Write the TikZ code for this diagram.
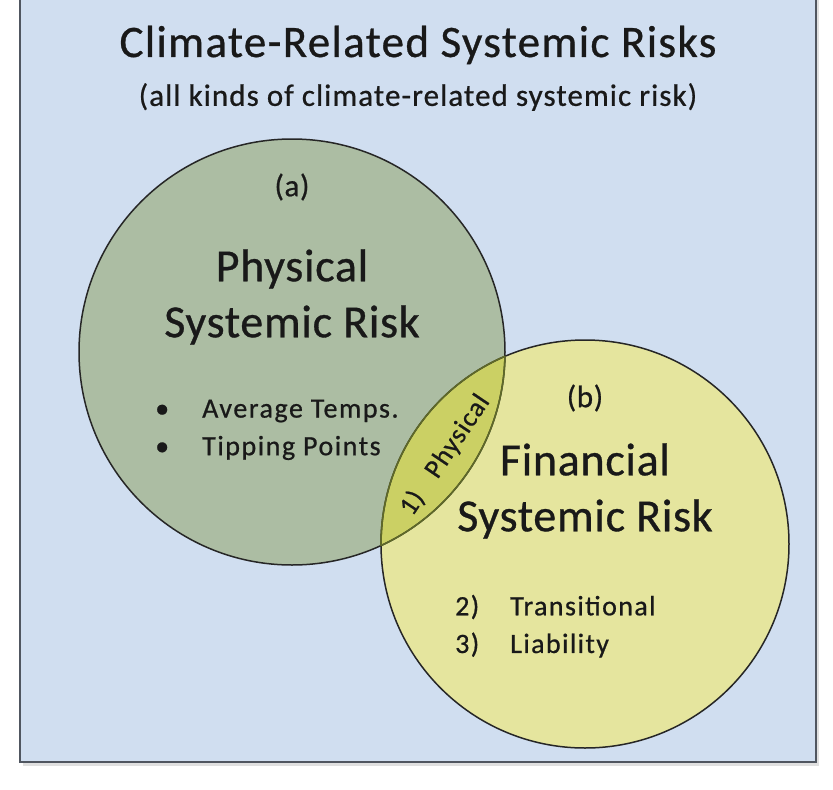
\documentclass[tikz,border=0pt]{standalone}
\usepackage{fontspec}
\setmainfont{Carlito}
\definecolor{boxblue}{RGB}{208,222,240}
\definecolor{boxline}{RGB}{80,86,96}
\definecolor{physgreen}{RGB}{172,189,163}
\definecolor{finyellow}{RGB}{229,229,158}
\definecolor{lensyellow}{RGB}{203,208,100}
\definecolor{lensline}{RGB}{95,105,40}
\tikzset{
  fsize/.style 2 args={font=\fontsize{#1}{#1}\selectfont\addfontfeature{LetterSpace=#2,FakeBold=0.7}},
  label/.style={inner sep=0pt, text=black!90},
}
\begin{document}
\begin{tikzpicture}[x=1pt,y=-1pt]
\useasboundingbox (0,0) rectangle (833,790);
% Rahmen
\fill[black!12] (23,-5) rectangle (819,766);
\draw[fill=boxblue, draw=boxline, line width=2pt] (20,-5) rectangle (816,762);
% Kreise
\fill[finyellow] (585,544) circle (204);
\fill[physgreen] (292,352) circle (213);
\begin{scope}
\clip (292,352) circle (213);
\fill[lensyellow] (585,544) circle (204);
\end{scope}
\draw[line width=1.5pt, black!85] (292,352) circle (213);
\draw[line width=1.5pt, black!85] (585,544) circle (204);
\begin{scope}
\clip (292,352) circle (213);
\draw[line width=1.6pt, lensline] (585,544) circle (204);
\end{scope}
\begin{scope}
\clip (585,544) circle (204);
\draw[line width=1.6pt, lensline] (292,352) circle (213);
\end{scope}
% Beschriftungen
\node[label, fsize={45}{3}] (title) at (418,45) {Climate-Related Systemic Risks};
\node[label, fsize={31}{3.5}] (subtitle) at (418,97) {(all kinds of climate-related systemic risk)};
\node[label, fsize={31}{2}] (a) at (292,187) {(a)};
\node[label, fsize={46}{1.5}, align=center] (phys) at (292,297) {Physical\\[10pt]Systemic Risk};
\node[label, fsize={28}{5.5}, anchor=west] (temps) at (155,411) {\makebox[47pt][l]{\textbullet}Average Temps.};
\node[label, fsize={28}{5.5}, anchor=west] (tipping) at (155,448) {\makebox[47pt][l]{\textbullet}Tipping Points};
\node[label, fsize={31}{2}] (b) at (585,398) {(b)};
\node[label, fsize={46}{1.5}, align=center] (fin) at (585,491) {Financial\\[10pt]Systemic Risk};
\node[label, fsize={28}{5}, anchor=west] (trans) at (455,607) {\makebox[55pt][l]{2)}Transitional};
\node[label, fsize={28}{5}, anchor=west] (liab) at (455,645) {\makebox[55pt][l]{3)}Liability};
\node[label, fsize={27}{4}, rotate=56] (lens) at (445,455) {1)\hspace{22pt}Physical};
\end{tikzpicture}
\end{document}
